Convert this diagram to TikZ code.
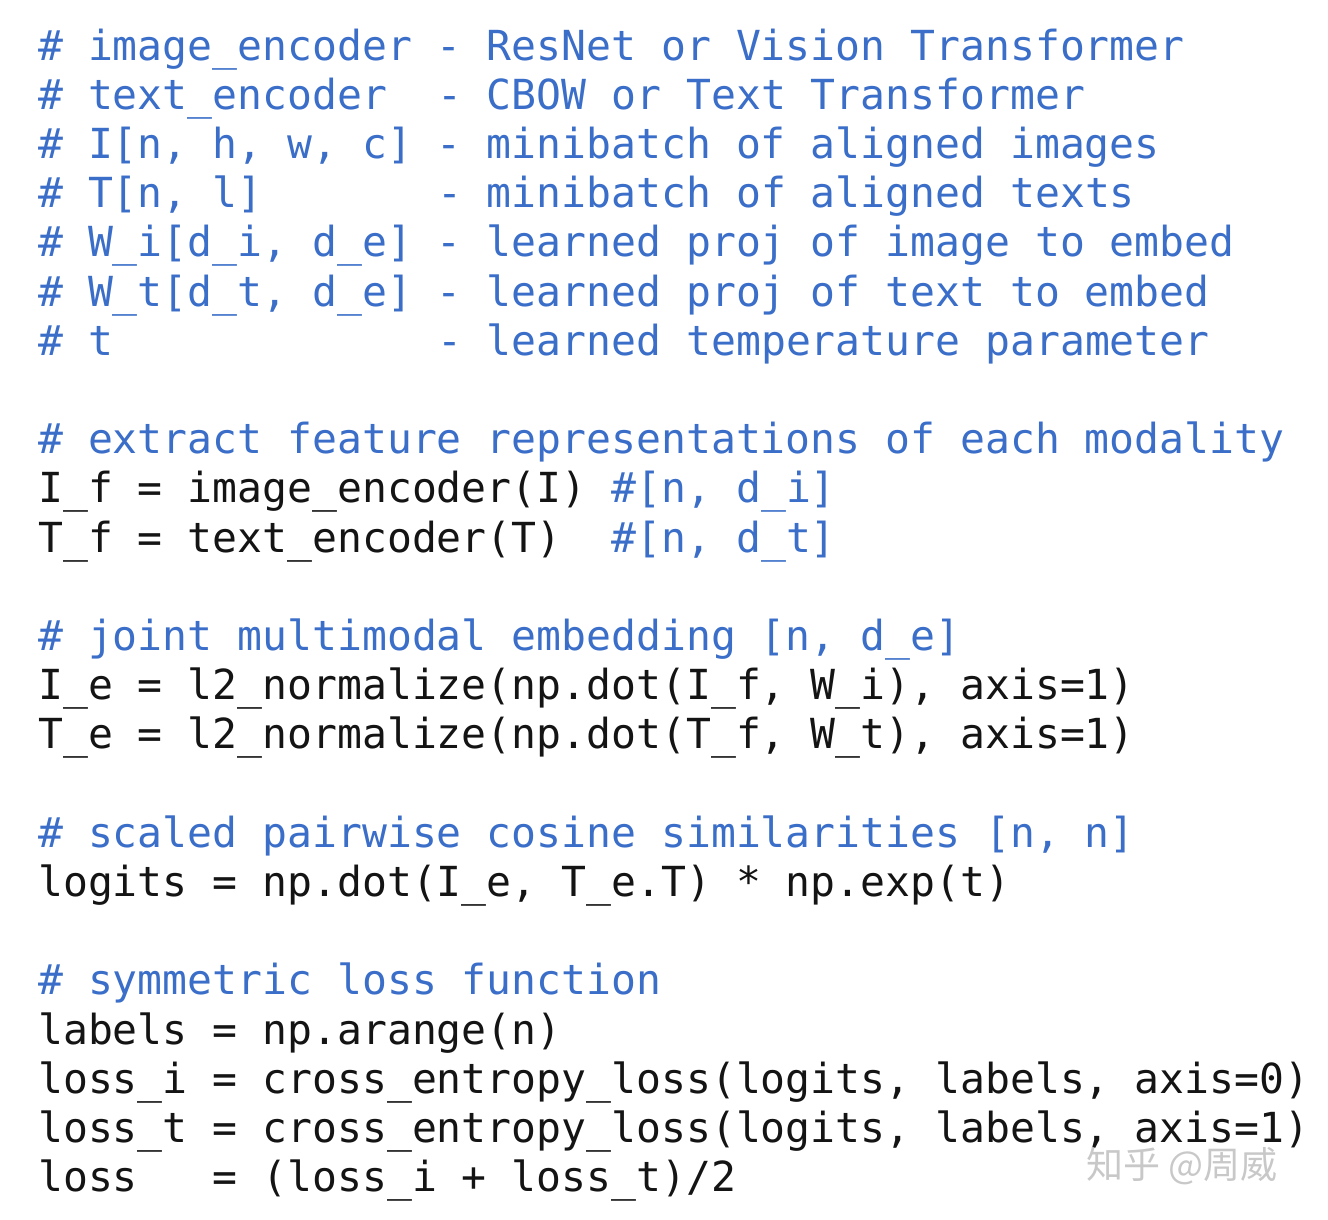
\documentclass[tikz,border=0pt]{standalone}
\usepackage{fontspec}
\setmainfont{DejaVu Sans Mono}[WordSpace={1,0,0}]
\newfontfamily\cjk{Noto Sans CJK SC}
\definecolor{cblue}{RGB}{58,110,200}
\definecolor{ctext}{RGB}{20,20,20}
\definecolor{wm}{RGB}{200,200,200}
\begin{document}
\begin{tikzpicture}[x=1pt,y=1pt,
  code/.style={anchor=base west,inner sep=0pt,font=\fontsize{41.4}{49}\selectfont,text=ctext},
  cmt/.style={code,text=cblue}]
\useasboundingbox (0,0) rectangle (1328,-1219);
\newcommand\cl[4]{\node[#3] (l#1c#2) at ({38+#2*24.93},{-(60+#1*49.2)}) {#4};}
\cl{0}{0}{cmt}{\# image\_encoder - ResNet or Vision Transformer}
\cl{1}{0}{cmt}{\# text\_encoder}
\cl{1}{16}{cmt}{- CBOW or Text Transformer}
\cl{2}{0}{cmt}{\# I[n, h, w, c] - minibatch of aligned images}
\cl{3}{0}{cmt}{\# T[n, l]}
\cl{3}{16}{cmt}{- minibatch of aligned texts}
\cl{4}{0}{cmt}{\# W\_i[d\_i, d\_e] - learned proj of image to embed}
\cl{5}{0}{cmt}{\# W\_t[d\_t, d\_e] - learned proj of text to embed}
\cl{6}{0}{cmt}{\# t}
\cl{6}{16}{cmt}{- learned temperature parameter}
\cl{8}{0}{cmt}{\# extract feature representations of each modality}
\cl{9}{0}{code}{I\_f = image\_encoder(I)}
\cl{9}{23}{cmt}{\#[n, d\_i]}
\cl{10}{0}{code}{T\_f = text\_encoder(T)}
\cl{10}{23}{cmt}{\#[n, d\_t]}
\cl{12}{0}{cmt}{\# joint multimodal embedding [n, d\_e]}
\cl{13}{0}{code}{I\_e = l2\_normalize(np.dot(I\_f, W\_i), axis=1)}
\cl{14}{0}{code}{T\_e = l2\_normalize(np.dot(T\_f, W\_t), axis=1)}
\cl{16}{0}{cmt}{\# scaled pairwise cosine similarities [n, n]}
\cl{17}{0}{code}{logits = np.dot(I\_e, T\_e.T) * np.exp(t)}
\cl{19}{0}{cmt}{\# symmetric loss function}
\cl{20}{0}{code}{labels = np.arange(n)}
\cl{21}{0}{code}{loss\_i = cross\_entropy\_loss(logits, labels, axis=0)}
\cl{22}{0}{code}{loss\_t = cross\_entropy\_loss(logits, labels, axis=1)}
\cl{23}{0}{code}{loss}
\cl{23}{7}{code}{= (loss\_i + loss\_t)/2}
\node[anchor=base west,inner sep=0pt,text=wm,font=\cjk\fontsize{37}{42}\selectfont] (wmark) at (1086,-1178) {知乎 @周威};
\end{tikzpicture}
\end{document}
